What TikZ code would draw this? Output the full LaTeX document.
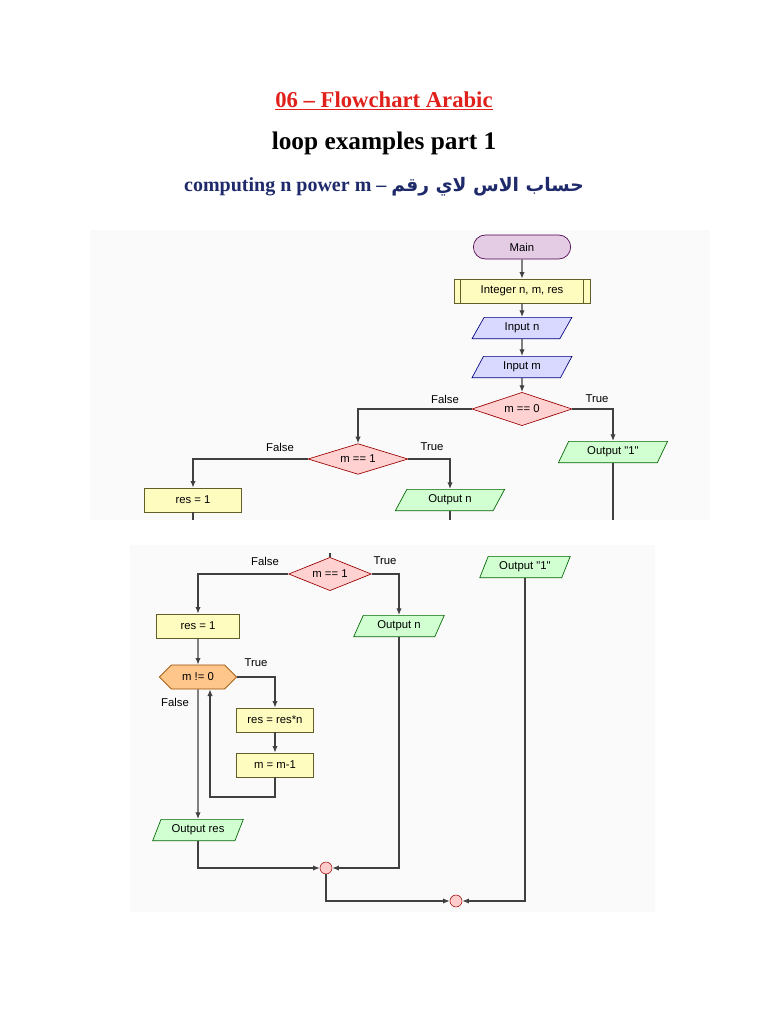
\documentclass[tikz,border=0pt]{standalone}
\usepackage{fontspec}
\setmainfont{Liberation Serif}
\newfontfamily\diag{Liberation Sans}
\newfontfamily\arabicfont[Script=Arabic]{DejaVu Sans}
\TeXXeTstate=1
\usetikzlibrary{shapes.geometric,shapes.misc,shapes.symbols,arrows.meta}
\definecolor{navy}{HTML}{1F2A6B}
\definecolor{ttlred}{HTML}{E0201B}
\begin{document}
\begin{tikzpicture}[x=0.75pt,y=-0.75pt,
  base/.style={draw=#1!60!black,line width=0.5pt,font=\diag\fontsize{8.5}{9}\selectfont,inner sep=1pt},
  term/.style={base=violet,fill=violet!20,rounded rectangle,minimum width=75pt,minimum height=18pt},
  proc/.style={base=olive,fill=yellow!25,rectangle,minimum height=18pt},
  io/.style={draw=green!40!black,line width=0.5pt,font=\diag\fontsize{8.5}{9}\selectfont,fill=green!18,trapezium,trapezium left angle=70,trapezium right angle=110,minimum height=16pt,trapezium stretches=true},
  inp/.style={io,draw=blue!50!black,fill=blue!15},
  dec/.style={base=red,fill=red!18,diamond,aspect=3,inner sep=0pt},
  hex/.style={base=orange,fill=orange!45,signal,signal to=west and east,minimum width=58pt,minimum height=18pt},
  junc/.style={circle,draw=red!60!black,fill=red!20,minimum size=9pt,inner sep=0pt},
  lbl/.style={font=\diag\fontsize{8.5}{9}\selectfont},
  arr/.style={-{Latex[length=5pt,width=4pt]},line width=0.9pt,draw=black!75},
  ln/.style={line width=0.9pt,draw=black!75}]
\useasboundingbox (0,0) rectangle (768,1024);
\fill[white] (0,0) rectangle (768,1024);
\fill[black!2] (90,230) rectangle (710,520);
\fill[black!2] (130,545) rectangle (655,912);
% titles
\node (t1) at (384,101) {\fontsize{17}{20}\selectfont\bfseries\color{ttlred}\underline{06 – Flowchart Arabic}};
\node (t2) at (384,143) {\fontsize{19}{22}\selectfont\bfseries loop examples part 1};
\node (t3) at (384,187) {\color{navy}\fontsize{15}{18}\selectfont\bfseries computing n power m – {\arabicfont\fontsize{14}{17}\selectfont\beginR حساب الاس لاي رقم\endR}};
% top diagram
\node[term] (main) at (522,247) {Main};
\node[proc,minimum width=102pt] (decl) at (522,291) {Integer n, m, res};
\draw[olive!60!black,line width=0.4pt] ([xshift=5pt]decl.north west)--([xshift=5pt]decl.south west) ([xshift=-5pt]decl.north east)--([xshift=-5pt]decl.south east);
\node[inp,minimum width=75pt] (inn) at (522,328) {Input n};
\node[inp,minimum width=75pt] (inm) at (522,367) {Input m};
\node[dec,minimum width=75pt,minimum height=25pt] (d0) at (522,409) {m == 0};
\node[io,minimum width=82pt] (o1) at (613,452) {Output "1"};
\node[dec,minimum width=75pt,minimum height=23pt] (d1) at (358,459) {m == 1};
\node[proc,minimum width=73pt] (r1) at (193,500) {res = 1};
\node[io,minimum width=82pt] (on) at (450,500) {Output n};
\coordinate (e1) at (613,520); \coordinate (e2) at (193,520); \coordinate (e3) at (450,520);
\draw[arr] (main)--(decl); \draw[arr] (decl)--(inn); \draw[arr] (inn)--(inm); \draw[arr] (inm)--(d0);
\draw[arr] (d0.east)-|(o1.north); \draw[arr] (d0.west)-|(d1.north);
\draw[arr] (d1.west)-|(r1.north); \draw[arr] (d1.east)-|(on.north);
\draw[ln] (o1)--(e1); \draw[ln] (r1)--(e2); \draw[ln] (on)--(e3);
\node[lbl] at (445,399) {False}; \node[lbl] at (597,399) {True};
\node[lbl] at (280,447) {False}; \node[lbl] at (432,447) {True};
% bottom diagram
\node[dec,minimum width=62pt,minimum height=25pt] (b1) at (330,574) {m == 1};
\coordinate (bt) at (330,553);
\draw[ln] (bt)--(b1.north);
\node[proc,minimum width=62pt] (br1) at (198,626) {res = 1};
\node[io,minimum width=68pt] (bon) at (399,626) {Output n};
\node[hex] (hx) at (198,677) {m != 0};
\node[proc,minimum width=58pt] (mul) at (275,720) {res = res*n};
\node[proc,minimum width=58pt] (dm) at (275,765) {m = m-1};
\node[io,minimum width=68pt] (ores) at (198,830) {Output res};
\node[io,minimum width=68pt] (bo1) at (525,567) {Output "1"};
\node[junc] (j1) at (326,868) {};
\node[junc] (j2) at (456,901) {};
\draw[arr] (b1.west)-|(br1.north); \draw[arr] (b1.east)-|(bon.north);
\draw[arr] (br1)--(hx);
\draw[arr] (hx.east)-|(mul.north);
\draw[arr] (mul)--(dm);
\coordinate (lp) at (210,797);
\draw[arr] (dm.south)|-(lp)--(lp|-hx.south);
\draw[arr] (hx.south)--(ores.north);
\draw[arr] (ores.south)|-(j1.west);
\draw[arr] (bon.south)|-(j1.east);
\draw[arr] (j1.south)|-(j2.west);
\draw[arr] (bo1.south)|-(j2.east);
\node[lbl] at (265,561) {False}; \node[lbl] at (385,561) {True};
\node[lbl] at (256,663) {True}; \node[lbl] at (175,702) {False};
\end{tikzpicture}
\end{document}
